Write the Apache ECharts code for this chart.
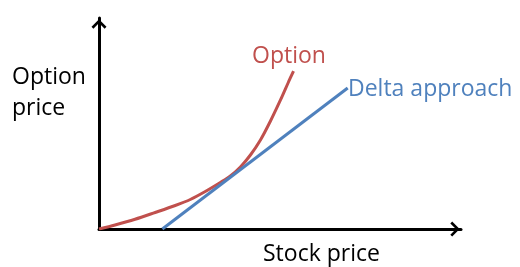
<!DOCTYPE html>
<html>
<head>
<meta charset="utf-8">
<script src="https://cdn.jsdelivr.net/npm/echarts@6/dist/echarts.min.js"></script>
<style>html,body{margin:0;padding:0;background:#fff}#c{width:520px;height:267px}</style>
</head>
<body>
<div id="c"></div>
<script>
// Option value curve (stock price, option price)
const optionCurve = [[0,0],[4.43,1.90],[9.97,4.60],[15.51,7.82],[21.05,11.14],[25.21,13.98],[29.36,17.77],[33.52,22.04],[36.29,25.12],[39.06,29.38],[41.83,35.07],[44.60,42.18],[47.37,51.18],[50.14,61.14],[52.35,69.67],[53.74,74.88]];
// Delta approach tangent line
const deltaLine = [[17.5,0],[68.7,66.8]];
const labels = {yTitle: 'Option\nprice', xTitle: 'Stock price', option: 'Option', delta: 'Delta approach'};

const FONT = '"Open Sans", sans-serif';
const arrow = 'path://M10,0 L20,10 L17.5,12.5 L10,5 L2.5,12.5 L0,10 Z';
const chart = echarts.init(document.getElementById('c'), null, {renderer: 'canvas'});
const axisCommon = {
  type: 'value', min: 0, max: 100,
  axisLine: {show: true, lineStyle: {color: '#000', width: 3}, symbol: ['none', arrow], symbolSize: [15, 12], symbolOffset: [0, -6]},
  axisTick: {show: false}, axisLabel: {show: false}, splitLine: {show: false}
};
chart.setOption({
  animation: false,
  grid: {left: 99, right: 59, top: 18, bottom: 38},
  xAxis: Object.assign({}, axisCommon),
  yAxis: Object.assign({}, axisCommon),
  series: [
    {type: 'line', data: optionCurve, smooth: 0.3, symbol: 'none', lineStyle: {color: '#C0504D', width: 3}, z: 3},
    {type: 'line', data: deltaLine, symbol: 'none', lineStyle: {color: '#4F81BD', width: 3}, z: 4}
  ],
  graphic: [
    {type: 'text', left: 12, top: 62, style: {text: labels.yTitle, font: '23px ' + FONT, fill: '#000', lineHeight: 31}},
    {type: 'text', left: 263, top: 243, style: {text: labels.xTitle, font: '23px ' + FONT, fill: '#000'}},
    {type: 'text', left: 252, top: 45, style: {text: labels.option, font: '23px ' + FONT, fill: '#C0504D'}},
    {type: 'text', left: 348, top: 78, style: {text: labels.delta, font: '23px ' + FONT, fill: '#4F81BD'}}
  ]
});
</script>
</body>
</html>
